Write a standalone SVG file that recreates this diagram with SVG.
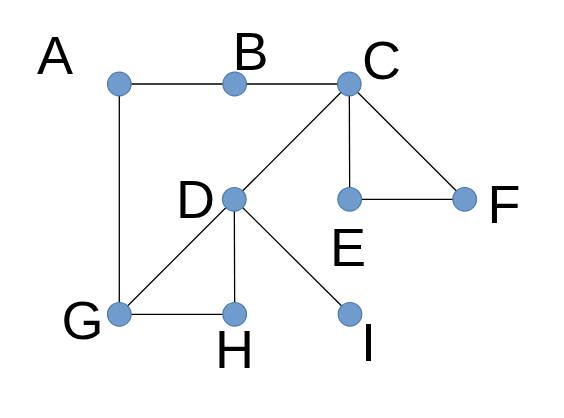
<svg xmlns="http://www.w3.org/2000/svg" width="564" height="418" viewBox="0 0 564 418">
<style>
.e{stroke:#000;stroke-width:1.3;fill:none}
.n{fill:#6f9bcd;stroke:#4f7bb0;stroke-width:1.2}
.l{font-family:"Liberation Sans",Arial,sans-serif;font-size:54px;fill:#000}
</style>
<rect width="564" height="418" fill="#fff"/>
<g id="edges">
<line class="e" x1="119.3" y1="84" x2="234.7" y2="84"/>
<line class="e" x1="234.7" y1="84" x2="349.3" y2="84"/>
<line class="e" x1="119.3" y1="84" x2="119.3" y2="314.3"/>
<line class="e" x1="349.3" y1="84" x2="234.3" y2="199.3"/>
<line class="e" x1="349.3" y1="84" x2="349.7" y2="199.3"/>
<line class="e" x1="349.3" y1="84" x2="464.7" y2="199.3"/>
<line class="e" x1="349.7" y1="199.3" x2="464.7" y2="199.3"/>
<line class="e" x1="234.3" y1="199.3" x2="119.3" y2="314.3"/>
<line class="e" x1="234.3" y1="199.3" x2="234.7" y2="314.3"/>
<line class="e" x1="234.3" y1="199.3" x2="350" y2="314.3"/>
<line class="e" x1="119.3" y1="314.3" x2="234.7" y2="314.3"/>
</g>
<g id="A"><circle class="n" cx="119.3" cy="84" r="11.8"/><text class="l" x="37" y="74">A</text></g>
<g id="B"><circle class="n" cx="234.7" cy="84" r="11.8"/><text class="l" x="232.5" y="70">B</text></g>
<g id="C"><circle class="n" cx="349.3" cy="84" r="11.8"/><text class="l" x="362" y="78.5">C</text></g>
<g id="D"><circle class="n" cx="234.3" cy="199.3" r="11.8"/><text class="l" x="176" y="218">D</text></g>
<g id="E"><circle class="n" cx="349.7" cy="199.3" r="11.8"/><text class="l" x="330" y="266">E</text></g>
<g id="F"><circle class="n" cx="464.7" cy="199.3" r="11.8"/><text class="l" x="487.5" y="223">F</text></g>
<g id="G"><circle class="n" cx="119.3" cy="314.3" r="11.8"/><text class="l" x="61.5" y="338.5">G</text></g>
<g id="H"><circle class="n" cx="234.7" cy="314.3" r="11.8"/><text class="l" x="215" y="368">H</text></g>
<g id="I"><circle class="n" cx="350" cy="314.3" r="11.8"/><text class="l" x="361" y="361">I</text></g>
</svg>
